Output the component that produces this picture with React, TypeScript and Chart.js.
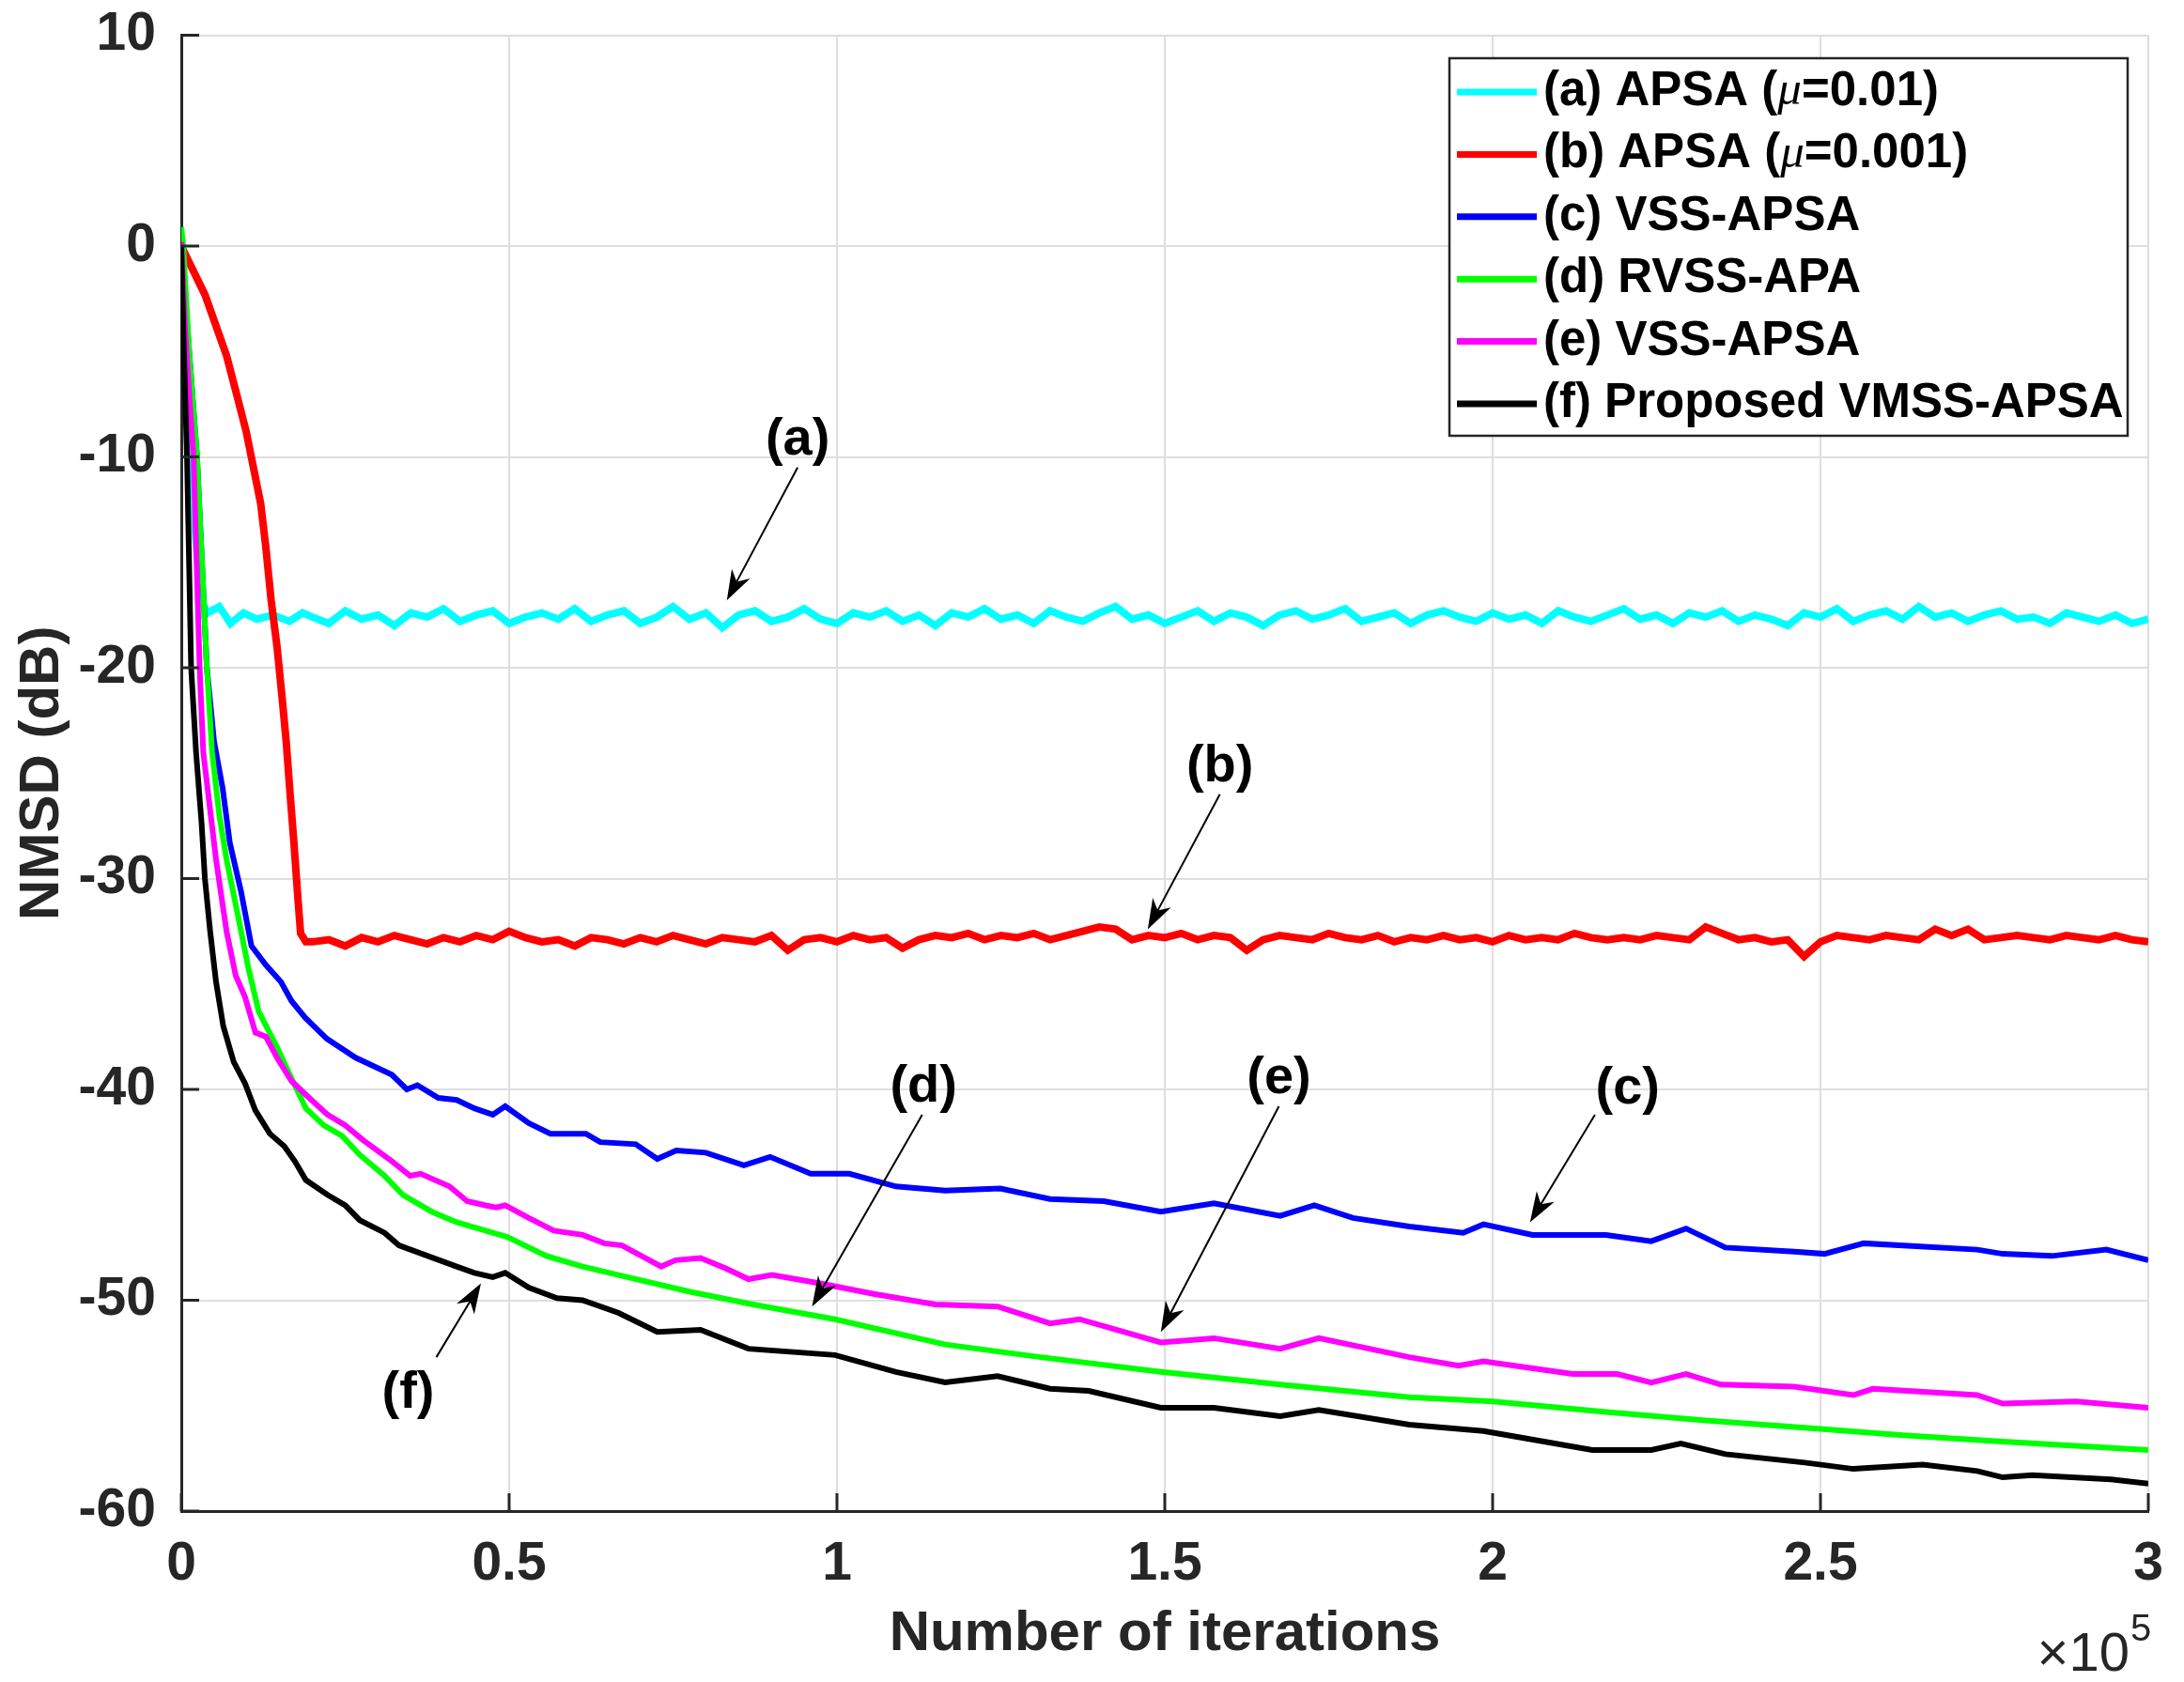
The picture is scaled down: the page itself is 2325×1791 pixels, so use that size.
import { useEffect, useRef } from "react";
import { Chart, registerables } from "chart.js";

Chart.register(...registerables);

// x in units of 1e5 iterations, y in dB
const TAIL_X = [
  0.2, 0.225, 0.25, 0.275, 0.3, 0.325, 0.35, 0.375, 0.4, 0.425,
  0.45, 0.475, 0.5, 0.525, 0.55, 0.575, 0.6, 0.625, 0.65, 0.675,
  0.7, 0.725, 0.75, 0.775, 0.8, 0.825, 0.85, 0.875, 0.9, 0.925,
  0.95, 0.975, 1, 1.025, 1.05, 1.075, 1.1, 1.125, 1.15, 1.175,
  1.2, 1.225, 1.25, 1.275, 1.3, 1.325, 1.35, 1.375, 1.4, 1.425,
  1.45, 1.475, 1.5, 1.525, 1.55, 1.575, 1.6, 1.625, 1.65, 1.675,
  1.7, 1.725, 1.75, 1.775, 1.8, 1.825, 1.85, 1.875, 1.9, 1.925,
  1.95, 1.975, 2, 2.025, 2.05, 2.075, 2.1, 2.125, 2.15, 2.175,
  2.2, 2.225, 2.25, 2.275, 2.3, 2.325, 2.35, 2.375, 2.4, 2.425,
  2.45, 2.475, 2.5, 2.525, 2.55, 2.575, 2.6, 2.625, 2.65, 2.675,
  2.7, 2.725, 2.75, 2.775, 2.8, 2.825, 2.85, 2.875, 2.9, 2.925,
  2.95, 2.975, 3,
];

const CYAN_HEAD_X = [0, 0.01, 0.02, 0.03, 0.04, 0.058, 0.075, 0.095, 0.115, 0.14, 0.165, 0.185];
const CYAN_HEAD_Y = [0, -7, -13, -16.8, -17.4, -17.1, -17.9, -17.4, -17.7, -17.5, -17.8, -17.4];
const CYAN_TAIL_Y = [
  -17.6, -17.9, -17.3, -17.7, -17.5, -18.0, -17.4, -17.6, -17.2, -17.8,
  -17.5, -17.3, -17.9, -17.6, -17.4, -17.7, -17.2, -17.8, -17.5, -17.3,
  -17.9, -17.6, -17.1, -17.7, -17.4, -18.1, -17.5, -17.3, -17.8, -17.6,
  -17.2, -17.7, -17.9, -17.4, -17.6, -17.3, -17.8, -17.5, -18.0, -17.4,
  -17.6, -17.2, -17.7, -17.5, -17.9, -17.3, -17.6, -17.8, -17.4, -17.1,
  -17.7, -17.5, -17.9, -17.6, -17.3, -17.8, -17.4, -17.6, -18.0, -17.5,
  -17.3, -17.7, -17.5, -17.2, -17.8, -17.6, -17.4, -17.9, -17.5, -17.3,
  -17.6, -17.8, -17.4, -17.7, -17.5, -17.9, -17.3, -17.6, -17.8, -17.5,
  -17.2, -17.7, -17.5, -17.9, -17.4, -17.6, -17.3, -17.8, -17.5, -17.7,
  -18.0, -17.4, -17.6, -17.2, -17.8, -17.5, -17.3, -17.7, -17.1, -17.6,
  -17.4, -17.8, -17.5, -17.3, -17.7, -17.6, -17.9, -17.4, -17.6, -17.8,
  -17.5, -17.9, -17.7,
];

const RED_HEAD_X = [0, 0.014, 0.036, 0.052, 0.069, 0.085, 0.099, 0.11, 0.121, 0.129, 0.137, 0.146, 0.154, 0.16, 0.166, 0.172, 0.178, 0.182, 0.19];
const RED_HEAD_Y = [0, -0.9, -2.3, -3.7, -5.2, -7.1, -8.8, -10.5, -12.2, -14.3, -16.8, -19.0, -21.5, -23.5, -26.0, -28.4, -31.0, -32.6, -33.0];
const RED_TAIL_Y = [
  -33.0, -32.9, -33.2, -32.8, -33.0, -32.7, -32.9, -33.1, -32.8, -33.0,
  -32.7, -32.9, -32.5, -32.8, -33.0, -32.9, -33.2, -32.8, -32.9, -33.1,
  -32.8, -33.0, -32.7, -32.9, -33.1, -32.8, -32.9, -33.0, -32.7, -33.4,
  -32.9, -32.8, -33.0, -32.7, -32.9, -32.8, -33.3, -32.9, -32.7, -32.8,
  -32.6, -32.9, -32.7, -32.8, -32.6, -32.9, -32.7, -32.5, -32.3, -32.4,
  -32.9, -32.7, -32.8, -32.6, -32.9, -32.7, -32.8, -33.4, -32.9, -32.7,
  -32.8, -32.9, -32.6, -32.8, -32.9, -32.7, -33.0, -32.8, -32.9, -32.7,
  -32.9, -32.8, -33.0, -32.7, -32.9, -32.8, -32.9, -32.6, -32.8, -32.9,
  -32.8, -32.9, -32.7, -32.8, -32.9, -32.3, -32.6, -32.9, -32.8, -33.0,
  -32.9, -33.7, -33.0, -32.7, -32.8, -32.9, -32.7, -32.8, -32.9, -32.4,
  -32.7, -32.4, -32.9, -32.8, -32.7, -32.8, -32.9, -32.7, -32.8, -32.9,
  -32.7, -32.9, -33.0,
];

const BLUE_X = [
  0, 0.012, 0.024, 0.039, 0.05, 0.063, 0.074, 0.091, 0.107, 0.129, 0.152, 0.168, 0.189, 0.222,
  0.266, 0.321, 0.344, 0.36, 0.392, 0.42, 0.447, 0.475, 0.494, 0.53, 0.563, 0.617, 0.639, 0.693,
  0.726, 0.755, 0.8, 0.858, 0.898, 0.96, 1.019, 1.09, 1.165, 1.249, 1.325, 1.407, 1.494, 1.575,
  1.676, 1.728, 1.787, 1.873, 1.955, 1.986, 2.061, 2.173, 2.242, 2.295, 2.355, 2.46, 2.506, 2.566,
  2.739, 2.778, 2.853, 2.936, 3,
];
const BLUE_Y = [
  0, -5, -10, -20, -23.5, -25.7, -28.3, -30.6, -33.2, -34.1, -34.9, -35.8, -36.6, -37.6,
  -38.5, -39.3, -40.0, -39.8, -40.4, -40.5, -40.9, -41.2, -40.8, -41.6, -42.1, -42.1, -42.5, -42.6,
  -43.3, -42.9, -43.0, -43.6, -43.2, -44.0, -44.0, -44.6, -44.8, -44.7, -45.2, -45.3, -45.8, -45.4,
  -46.0, -45.5, -46.1, -46.5, -46.8, -46.4, -46.9, -46.9, -47.2, -46.6, -47.5, -47.7, -47.8, -47.3,
  -47.6, -47.8, -47.9, -47.6, -48.1,
];

const GREEN_X = [
  0, 0.003, 0.012, 0.024, 0.039, 0.047, 0.058, 0.069, 0.086, 0.102, 0.118, 0.146, 0.173, 0.19,
  0.217, 0.245, 0.272, 0.31, 0.338, 0.382, 0.42, 0.464, 0.497, 0.557, 0.612, 0.694, 0.776, 0.872,
  0.997, 1.165, 1.311, 1.494, 1.676, 1.873, 2, 2.173, 2.325, 2.5, 2.626, 2.778, 3,
];
const GREEN_Y = [
  0.9, 0, -5, -10, -20, -24, -27, -29.1, -31.7, -34.2, -36.3, -38.0, -39.8, -40.9,
  -41.7, -42.2, -43.1, -44.1, -45.0, -45.8, -46.3, -46.7, -47.0, -47.9, -48.4, -49.0, -49.6, -50.2,
  -50.9, -52.1, -52.7, -53.4, -54.0, -54.6, -54.8, -55.3, -55.7, -56.1, -56.4, -56.7, -57.1,
];

const MAGENTA_X = [
  0, 0.006, 0.012, 0.0187, 0.028, 0.0335, 0.053, 0.069, 0.083, 0.097, 0.113, 0.129, 0.146, 0.168,
  0.195, 0.223, 0.25, 0.277, 0.321, 0.349, 0.365, 0.409, 0.436, 0.464, 0.48, 0.494, 0.53, 0.568,
  0.612, 0.645, 0.672, 0.732, 0.754, 0.792, 0.831, 0.865, 0.901, 0.974, 1.056, 1.15, 1.245, 1.325,
  1.37, 1.494, 1.575, 1.676, 1.735, 1.873, 1.948, 1.986, 2.122, 2.19, 2.242, 2.295, 2.348, 2.46,
  2.55, 2.58, 2.739, 2.778, 2.89, 3,
];
const MAGENTA_Y = [
  0.2, -4, -7, -10, -20, -24, -29.1, -32.5, -34.6, -35.6, -37.3, -37.5, -38.5, -39.6,
  -40.4, -41.2, -41.7, -42.4, -43.4, -44.1, -44.0, -44.6, -45.3, -45.5, -45.6, -45.5, -46.1, -46.7,
  -46.9, -47.3, -47.4, -48.4, -48.1, -48.0, -48.5, -49.0, -48.8, -49.2, -49.7, -50.2, -50.3, -51.1,
  -50.9, -52.0, -51.8, -52.3, -51.8, -52.7, -53.1, -52.9, -53.5, -53.5, -53.9, -53.5, -54.0, -54.1,
  -54.5, -54.2, -54.5, -54.9, -54.8, -55.1,
];

const BLACK_X = [
  0, 0.004, 0.0087, 0.015, 0.0225, 0.031, 0.036, 0.044, 0.053, 0.064, 0.08, 0.097, 0.113, 0.135,
  0.157, 0.173, 0.19, 0.223, 0.25, 0.272, 0.31, 0.332, 0.376, 0.42, 0.447, 0.475, 0.494, 0.53,
  0.573, 0.612, 0.667, 0.726, 0.792, 0.865, 0.997, 1.09, 1.165, 1.245, 1.325, 1.384, 1.494, 1.575,
  1.676, 1.735, 1.873, 1.986, 2.023, 2.152, 2.242, 2.287, 2.355, 2.476, 2.55, 2.656, 2.739, 2.778,
  2.823, 2.943, 3,
];
const BLACK_Y = [
  0, -5, -10, -20, -24, -27.4, -30.0, -32.5, -34.9, -37.0, -38.7, -39.7, -41.0, -42.1,
  -42.7, -43.4, -44.3, -45.0, -45.5, -46.2, -46.8, -47.4, -47.9, -48.4, -48.7, -48.9, -48.7, -49.4,
  -49.9, -50.0, -50.6, -51.5, -51.4, -52.3, -52.6, -53.4, -53.9, -53.6, -54.2, -54.3, -55.1, -55.1,
  -55.5, -55.2, -55.9, -56.2, -56.4, -57.1, -57.1, -56.8, -57.3, -57.7, -58.0, -57.8, -58.1, -58.4,
  -58.3, -58.5, -58.7,
];

const X_TICKS = [0, 0.5, 1, 1.5, 2, 2.5, 3];
const X_TICK_LABELS = ["0", "0.5", "1", "1.5", "2", "2.5", "3"];
const Y_TICKS = [-60, -50, -40, -30, -20, -10, 0, 10];

const LEGEND_LABELS = [
  "(a) APSA (μ=0.01)",
  "(b) APSA (μ=0.001)",
  "(c) VSS-APSA",
  "(d) RVSS-APA",
  "(e) VSS-APSA",
  "(f) Proposed VMSS-APSA",
];
const COLORS = ["#00ffff", "#ff0000", "#0000ff", "#00ff00", "#ff00ff", "#000000"];

// callouts: label centre, arrow start, arrow tip (data coords)
const CALLOUTS = [
  { text: "(a)", at: [0.94, -9.2], from: [0.94, -10.5], to: [0.832, -16.8] },
  { text: "(b)", at: [1.584, -24.7], from: [1.584, -26.0], to: [1.474, -32.4] },
  { text: "(c)", at: [2.206, -40.0], from: [2.156, -41.2], to: [2.057, -46.3] },
  { text: "(d)", at: [1.132, -39.9], from: [1.13, -41.2], to: [0.962, -50.3] },
  { text: "(e)", at: [1.674, -39.5], from: [1.674, -40.8], to: [1.494, -51.5] },
  { text: "(f)", at: [0.346, -54.4], from: [0.389, -52.7], to: [0.457, -49.2] },
];

const FONT = "'Liberation Sans', Arial, Helvetica, sans-serif";
const AXIS_COLOR = "#262626";

function arrow(ctx: CanvasRenderingContext2D, x0: number, y0: number, x1: number, y1: number) {
  const a = Math.atan2(y1 - y0, x1 - x0);
  const len = 32;
  const hw = 11;
  const dx = Math.cos(a), dy = Math.sin(a);
  const bx = x1 - dx * len, by = y1 - dy * len;
  const nx = x1 - dx * len * 0.7, ny = y1 - dy * len * 0.7;
  ctx.beginPath();
  ctx.moveTo(x0, y0);
  ctx.lineTo(nx, ny);
  ctx.lineWidth = 2;
  ctx.strokeStyle = "#000";
  ctx.stroke();
  ctx.beginPath();
  ctx.moveTo(x1, y1);
  ctx.lineTo(bx - dy * hw, by + dx * hw);
  ctx.lineTo(nx, ny);
  ctx.lineTo(bx + dy * hw, by - dx * hw);
  ctx.closePath();
  ctx.fillStyle = "#000";
  ctx.fill();
}

const decor = {
  id: "decor",
  afterDraw(chart: any) {
    const { ctx, chartArea: area, scales } = chart;
    const sx = scales.x;
    const sy = scales.y;
    ctx.save();

    // inward tick marks, matlab style
    ctx.strokeStyle = AXIS_COLOR;
    ctx.lineWidth = 3;
    Y_TICKS.forEach((v) => {
      const p = sy.getPixelForValue(v);
      ctx.beginPath();
      ctx.moveTo(area.left, p);
      ctx.lineTo(area.left + 19, p);
      ctx.stroke();
    });
    X_TICKS.forEach((v) => {
      const p = sx.getPixelForValue(v);
      ctx.beginPath();
      ctx.moveTo(p, area.bottom);
      ctx.lineTo(p, area.bottom - 19);
      ctx.stroke();
    });

    // callouts
    ctx.font = `bold 56px ${FONT}`;
    ctx.textAlign = "center";
    ctx.textBaseline = "middle";
    CALLOUTS.forEach((c) => {
      ctx.fillStyle = "#000";
      ctx.fillText(c.text, sx.getPixelForValue(c.at[0]), sy.getPixelForValue(c.at[1]));
      arrow(
        ctx,
        sx.getPixelForValue(c.from[0]), sy.getPixelForValue(c.from[1]),
        sx.getPixelForValue(c.to[0]), sy.getPixelForValue(c.to[1])
      );
    });

    // legend box
    const bl = area.right - 744;
    const bt = area.top + 24.5;
    ctx.fillStyle = "#fff";
    ctx.fillRect(bl, bt, 722, 402);
    ctx.strokeStyle = AXIS_COLOR;
    ctx.lineWidth = 2.5;
    ctx.strokeRect(bl, bt, 722, 402);
    ctx.textAlign = "left";
    LEGEND_LABELS.forEach((label, i) => {
      const y = bt + 36 + i * 66.4;
      ctx.strokeStyle = COLORS[i];
      ctx.lineWidth = 7;
      ctx.beginPath();
      ctx.moveTo(bl + 8, y);
      ctx.lineTo(bl + 93, y);
      ctx.stroke();
      ctx.fillStyle = "#000";
      let cx = bl + 100;
      label.split("μ").forEach((part, j) => {
        if (j > 0) {
          ctx.font = `italic 51px 'Liberation Serif', 'Times New Roman', serif`;
          ctx.fillText("μ", cx, y);
          cx += ctx.measureText("μ").width;
        }
        ctx.font = `bold 51px ${FONT}`;
        ctx.fillText(part, cx, y);
        cx += ctx.measureText(part).width;
      });
    });

    // exponent
    ctx.fillStyle = AXIS_COLOR;
    ctx.textBaseline = "alphabetic";
    ctx.textAlign = "right";
    ctx.font = `58px ${FONT}`;
    ctx.fillText("×10", area.right - 20, area.bottom + 170);
    ctx.textAlign = "left";
    ctx.font = `40px ${FONT}`;
    ctx.fillText("5", area.right - 19, area.bottom + 138);

    ctx.restore();
  },
};

const SERIES = [
  { xs: [...CYAN_HEAD_X, ...TAIL_X], ys: [...CYAN_HEAD_Y, ...CYAN_TAIL_Y], width: 8 },
  { xs: [...RED_HEAD_X, ...TAIL_X], ys: [...RED_HEAD_Y, ...RED_TAIL_Y], width: 8 },
  { xs: BLUE_X, ys: BLUE_Y, width: 6 },
  { xs: GREEN_X, ys: GREEN_Y, width: 6 },
  { xs: MAGENTA_X, ys: MAGENTA_Y, width: 6 },
  { xs: BLACK_X, ys: BLACK_Y, width: 6 },
];

export default function App() {
  const canvasRef = useRef<HTMLCanvasElement>(null);

  useEffect(() => {
    document.body.style.margin = "0";
    if (!canvasRef.current) return;
    const ctx = canvasRef.current.getContext("2d");
    if (!ctx) return;

    const chart = new Chart(ctx, {
      type: "line",
      data: {
        datasets: SERIES.map((s, i) => ({
          label: LEGEND_LABELS[i],
          data: s.xs.map((x, j) => ({ x, y: s.ys[j] })),
          borderColor: COLORS[i],
          backgroundColor: COLORS[i],
          borderWidth: s.width,
          pointRadius: 0,
          tension: 0,
          fill: false,
          order: SERIES.length - i,
        })),
      },
      plugins: [decor],
      options: {
        responsive: false,
        devicePixelRatio: 1,
        animation: false,
        events: [],
        layout: { padding: { top: 37.5, right: 38, left: 0, bottom: 0 } },
        plugins: {
          legend: { display: false },
          tooltip: { enabled: false },
        },
        scales: {
          x: {
            type: "linear",
            min: 0,
            max: 3,
            afterBuildTicks: (s: any) => {
              s.ticks = X_TICKS.map((value) => ({ value }));
            },
            afterFit: (s: any) => {
              s.height = 182;
              s.paddingLeft = 0;
              s.paddingRight = 0;
            },
            ticks: {
              autoSkip: false,
              maxRotation: 0,
              padding: 23,
              color: AXIS_COLOR,
              font: { family: FONT, size: 57, weight: "bold" },
              callback: (_v: any, i: number) => X_TICK_LABELS[i],
            },
            grid: { color: "#dedede", lineWidth: 2, drawTicks: false },
            border: { color: AXIS_COLOR, width: 3 },
            title: {
              display: true,
              text: "Number of iterations",
              color: AXIS_COLOR,
              font: { family: FONT, size: 60, weight: "bold" },
              padding: { top: 0, bottom: 15 },
            },
          },
          y: {
            type: "linear",
            min: -60,
            max: 10,
            afterBuildTicks: (s: any) => {
              s.ticks = Y_TICKS.map((value) => ({ value }));
            },
            afterFit: (s: any) => {
              s.width = 193;
              s.paddingTop = 0;
              s.paddingBottom = 0;
            },
            ticks: {
              padding: 27,
              color: AXIS_COLOR,
              font: { family: FONT, size: 57, weight: "bold" },
              callback: (v: any) => String(v),
            },
            grid: { color: "#dedede", lineWidth: 2, drawTicks: false },
            border: { color: AXIS_COLOR, width: 3 },
            title: {
              display: true,
              text: "NMSD (dB)",
              color: AXIS_COLOR,
              font: { family: FONT, size: 60, weight: "bold" },
              padding: { top: 9, bottom: 0 },
            },
          },
        },
      },
    });

    return () => {
      chart.destroy();
    };
  }, []);

  return (
    <div style={{ position: "absolute", left: 0, top: 0, width: 2325, height: 1791, background: "#fff" }}>
      <canvas ref={canvasRef} width={2325} height={1791} />
    </div>
  );
}
